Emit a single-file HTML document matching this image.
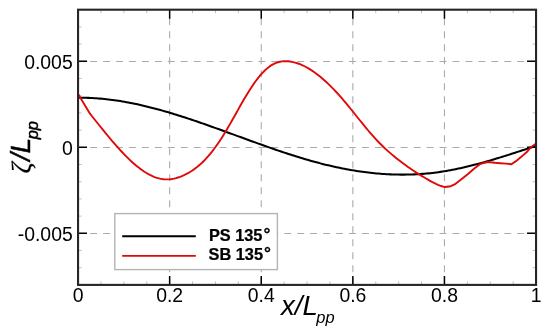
<!DOCTYPE html>
<html><head><meta charset="utf-8"><title>Wave elevation</title>
<style>html,body{margin:0;padding:0;background:#fff;width:550px;height:333px;overflow:hidden}svg{display:block}</style>
</head><body>
<svg width="550" height="333" viewBox="0 0 550 333"><g stroke="#ababab" stroke-width="1.1"><line x1="169.65" y1="9.70" x2="169.65" y2="284.90" stroke-dasharray="7 6" stroke-dashoffset="4.4"/><line x1="261.25" y1="9.70" x2="261.25" y2="284.90" stroke-dasharray="7 6" stroke-dashoffset="4.4"/><line x1="352.85" y1="9.70" x2="352.85" y2="284.90" stroke-dasharray="7 6" stroke-dashoffset="4.4"/><line x1="444.45" y1="9.70" x2="444.45" y2="284.90" stroke-dasharray="7 6" stroke-dashoffset="4.4"/><line x1="78.05" y1="61.50" x2="536.05" y2="61.50" stroke-dasharray="6.9 6.04" stroke-dashoffset="0.79"/><line x1="78.05" y1="147.50" x2="536.05" y2="147.50" stroke-dasharray="6.9 6.04" stroke-dashoffset="0.79"/><line x1="78.05" y1="233.50" x2="536.05" y2="233.50" stroke-dasharray="6.9 6.04" stroke-dashoffset="0.79"/></g>
<path d="M100.95,284.90v-3.50M100.95,9.70v3.50M123.85,284.90v-3.50M123.85,9.70v3.50M146.75,284.90v-3.50M146.75,9.70v3.50M192.55,284.90v-3.50M192.55,9.70v3.50M215.45,284.90v-3.50M215.45,9.70v3.50M238.35,284.90v-3.50M238.35,9.70v3.50M284.15,284.90v-3.50M284.15,9.70v3.50M307.05,284.90v-3.50M307.05,9.70v3.50M329.95,284.90v-3.50M329.95,9.70v3.50M375.75,284.90v-3.50M375.75,9.70v3.50M398.65,284.90v-3.50M398.65,9.70v3.50M421.55,284.90v-3.50M421.55,9.70v3.50M467.35,284.90v-3.50M467.35,9.70v3.50M490.25,284.90v-3.50M490.25,9.70v3.50M513.15,284.90v-3.50M513.15,9.70v3.50M78.05,284.90h3.50M536.05,284.90h-3.50M78.05,267.70h3.50M536.05,267.70h-3.50M78.05,250.50h3.50M536.05,250.50h-3.50M78.05,216.10h3.50M536.05,216.10h-3.50M78.05,198.90h3.50M536.05,198.90h-3.50M78.05,181.70h3.50M536.05,181.70h-3.50M78.05,164.50h3.50M536.05,164.50h-3.50M78.05,130.10h3.50M536.05,130.10h-3.50M78.05,112.90h3.50M536.05,112.90h-3.50M78.05,95.70h3.50M536.05,95.70h-3.50M78.05,78.50h3.50M536.05,78.50h-3.50M78.05,44.10h3.50M536.05,44.10h-3.50M78.05,26.90h3.50M536.05,26.90h-3.50M78.05,9.70h3.50M536.05,9.70h-3.50" stroke="#c0c0c0" stroke-width="1.0" fill="none"/>
<path d="M78.05,284.90v-9.00M78.05,9.70v9.00M169.65,284.90v-9.00M169.65,9.70v9.00M261.25,284.90v-9.00M261.25,9.70v9.00M352.85,284.90v-9.00M352.85,9.70v9.00M444.45,284.90v-9.00M444.45,9.70v9.00M536.05,284.90v-9.00M536.05,9.70v9.00M78.05,233.30h9.00M536.05,233.30h-9.00M78.05,147.30h9.00M536.05,147.30h-9.00M78.05,61.30h9.00M536.05,61.30h-9.00" stroke="#000" stroke-width="1.5" fill="none"/>
<path d="M78.40,97.77 80.40,97.76 82.40,97.76 84.40,97.78 86.40,97.83 88.40,97.89 90.40,97.96 92.40,98.06 94.40,98.17 96.40,98.30 98.40,98.45 100.40,98.61 102.40,98.79 104.40,98.99 106.40,99.20 108.40,99.42 110.40,99.67 112.40,99.93 114.40,100.20 116.40,100.49 118.40,100.79 120.40,101.11 122.40,101.44 124.40,101.78 126.40,102.14 128.40,102.51 130.40,102.89 132.40,103.29 134.40,103.70 136.40,104.12 138.40,104.56 140.40,105.00 142.40,105.46 144.40,105.93 146.40,106.41 148.40,106.90 150.40,107.40 152.40,107.91 154.40,108.44 156.40,108.97 158.40,109.51 160.40,110.06 162.40,110.62 164.40,111.19 166.40,111.77 168.40,112.35 170.40,112.95 172.40,113.55 174.40,114.16 176.40,114.78 178.40,115.40 180.40,116.04 182.40,116.68 184.40,117.32 186.40,117.97 188.40,118.63 190.40,119.29 192.40,119.96 194.40,120.64 196.40,121.32 198.40,122.00 200.40,122.69 202.40,123.38 204.40,124.08 206.40,124.78 208.40,125.49 210.40,126.20 212.40,126.91 214.40,127.62 216.40,128.34 218.40,129.06 220.40,129.78 222.40,130.51 224.40,131.23 226.40,131.96 228.40,132.69 230.40,133.42 232.40,134.15 234.40,134.88 236.40,135.61 238.40,136.34 240.40,137.07 242.40,137.80 244.40,138.53 246.40,139.26 248.40,139.99 250.40,140.71 252.40,141.44 254.40,142.16 256.40,142.88 258.40,143.60 260.40,144.32 262.40,145.03 264.40,145.74 266.40,146.44 268.40,147.15 270.40,147.85 272.40,148.54 274.40,149.23 276.40,149.92 278.40,150.60 280.40,151.28 282.40,151.95 284.40,152.61 286.40,153.27 288.40,153.92 290.40,154.57 292.40,155.21 294.40,155.85 296.40,156.47 298.40,157.10 300.40,157.71 302.40,158.31 304.40,158.91 306.40,159.50 308.40,160.08 310.40,160.65 312.40,161.21 314.40,161.77 316.40,162.31 318.40,162.85 320.40,163.37 322.40,163.89 324.40,164.39 326.40,164.89 328.40,165.37 330.40,165.84 332.40,166.30 334.40,166.75 336.40,167.19 338.40,167.62 340.40,168.03 342.40,168.44 344.40,168.83 346.40,169.21 348.40,169.58 350.40,169.93 352.40,170.28 354.40,170.61 356.40,170.93 358.40,171.23 360.40,171.53 362.40,171.81 364.40,172.08 366.40,172.33 368.40,172.58 370.40,172.81 372.40,173.02 374.40,173.23 376.40,173.42 378.40,173.59 380.40,173.76 382.40,173.91 384.40,174.04 386.40,174.16 388.40,174.27 390.40,174.37 392.40,174.45 394.40,174.51 396.40,174.56 398.40,174.60 400.40,174.62 402.40,174.63 404.40,174.62 406.40,174.60 408.40,174.57 410.40,174.51 412.40,174.45 414.40,174.37 416.40,174.27 418.40,174.16 420.40,174.03 422.40,173.89 424.40,173.73 426.40,173.55 428.40,173.36 430.40,173.16 432.40,172.94 434.40,172.70 436.40,172.44 438.40,172.17 440.40,171.89 442.40,171.58 444.40,171.26 446.40,170.93 448.40,170.58 450.40,170.22 452.40,169.84 454.40,169.44 456.40,169.04 458.40,168.62 460.40,168.19 462.40,167.74 464.40,167.28 466.40,166.82 468.40,166.33 470.40,165.84 472.40,165.34 474.40,164.83 476.40,164.31 478.40,163.77 480.40,163.23 482.40,162.68 484.40,162.12 486.40,161.55 488.40,160.98 490.40,160.39 492.40,159.80 494.40,159.20 496.40,158.60 498.40,157.99 500.40,157.37 502.40,156.75 504.40,156.13 506.40,155.50 508.40,154.86 510.40,154.22 512.40,153.58 514.40,152.93 516.40,152.28 518.40,151.63 520.40,150.98 522.40,150.32 524.40,149.66 526.40,149.00 528.40,148.34 530.40,147.68 532.40,147.02 534.40,146.36 536.00,145.84" stroke="#000" stroke-width="2.05" fill="none" stroke-linejoin="round"/>
<path d="M78.40,94.60 90.00,113.70 L92.00,116.28 94.00,118.77 96.00,121.26 98.00,123.74 100.00,126.23 102.00,128.70 104.00,131.15 106.00,133.59 108.00,136.01 110.00,138.40 112.00,140.77 114.00,143.10 116.00,145.39 118.00,147.64 120.00,149.85 122.00,152.01 124.00,154.11 126.00,156.16 128.00,158.15 130.00,160.08 132.00,161.94 134.00,163.72 136.00,165.43 138.00,167.06 140.00,168.61 142.00,170.07 144.00,171.44 146.00,172.72 148.00,173.89 150.00,174.97 152.00,175.94 154.00,176.79 156.00,177.54 158.00,178.16 160.00,178.67 162.00,179.04 164.00,179.29 166.00,179.41 168.00,179.39 170.00,179.25 172.00,178.98 174.00,178.60 176.00,178.11 178.00,177.51 180.00,176.82 182.00,176.02 184.00,175.15 186.00,174.18 188.00,173.12 190.00,171.97 192.00,170.71 194.00,169.35 196.00,167.88 198.00,166.29 200.00,164.58 202.00,162.75 204.00,160.79 206.00,158.69 208.00,156.46 210.00,154.10 212.00,151.62 214.00,149.01 216.00,146.28 218.00,143.44 220.00,140.48 222.00,137.41 224.00,134.23 226.00,130.95 228.00,127.57 230.00,124.11 232.00,120.58 234.00,117.02 236.00,113.44 238.00,109.86 240.00,106.30 242.00,102.78 244.00,99.31 246.00,95.93 248.00,92.65 250.00,89.48 252.00,86.43 254.00,83.52 256.00,80.75 258.00,78.13 260.00,75.67 262.00,73.39 264.00,71.29 266.00,69.37 268.00,67.66 270.00,66.16 272.00,64.88 274.00,63.81 276.00,62.94 278.00,62.26 280.00,61.75 282.00,61.42 284.00,61.24 286.00,61.20 288.00,61.30 290.00,61.53 292.00,61.86 294.00,62.31 296.00,62.85 298.00,63.49 300.00,64.23 302.00,65.07 304.00,66.00 306.00,67.02 308.00,68.13 310.00,69.32 312.00,70.60 314.00,71.96 316.00,73.41 318.00,74.93 320.00,76.52 322.00,78.19 324.00,79.94 326.00,81.75 328.00,83.63 330.00,85.57 332.00,87.57 334.00,89.64 336.00,91.76 338.00,93.94 340.00,96.17 342.00,98.45 344.00,100.78 346.00,103.15 348.00,105.57 350.00,108.01 352.00,110.49 354.00,112.98 356.00,115.48 358.00,117.98 360.00,120.48 362.00,122.96 364.00,125.42 366.00,127.86 368.00,130.26 370.00,132.62 372.00,134.93 374.00,137.18 376.00,139.36 378.00,141.48 380.00,143.53 382.00,145.52 384.00,147.44 386.00,149.32 388.00,151.14 390.00,152.90 392.00,154.63 394.00,156.30 396.00,157.94 398.00,159.53 400.00,161.09 402.00,162.61 404.00,164.09 406.00,165.54 408.00,166.96 410.00,168.34 412.00,169.70 414.00,171.03 416.00,172.33 418.00,173.61 420.00,174.87 422.00,176.10 424.00,177.31 426.00,178.50 428.00,179.67 430.00,180.80 432.00,181.89 434.00,182.92 436.00,183.88 438.00,184.76 440.00,185.55 442.00,186.24 444.00,186.82 444.80,187.02 L450.80,186.20 455.60,183.80 461.70,179.00 467.70,174.20 474.60,168.20 480.60,163.80 487.80,162.00 495.00,162.80 500.00,163.20 506.00,163.60 511.40,164.20 515.60,161.40 521.60,156.60 527.60,151.20 531.20,147.00 534.80,144.40 536.00,143.80" stroke="#e00808" stroke-width="1.9" fill="none" stroke-linejoin="round"/>
<rect x="78.05" y="9.70" width="458.00" height="275.20" fill="none" stroke="#262626" stroke-width="2.1"/>
<rect x="114.8" y="213.6" width="162.6" height="56" fill="#fff" stroke="#b4b4b4" stroke-width="1.4"/>
<line x1="122.2" y1="236.2" x2="195.8" y2="236.2" stroke="#000" stroke-width="2.05"/>
<line x1="122.2" y1="255.9" x2="195.8" y2="255.9" stroke="#e00808" stroke-width="1.9"/>
<g font-family="Liberation Sans, Arial, sans-serif" font-weight="bold" font-size="16" fill="#000" stroke="#000" stroke-width="0.25"><text transform="translate(208.9,240.9) scale(1.02,0.99)">PS 135<tspan font-size="17" dx="1.0" dy="-1.1">°</tspan></text><text transform="translate(208.6,259.9) scale(1.02,0.985)">SB 135<tspan font-size="17" dx="1.0" dy="-1.1">°</tspan></text></g>
<g font-family="Liberation Sans, Arial, sans-serif" font-size="19.4" fill="#000"><text transform="translate(78.05,301.7) scale(1,1.05)" text-anchor="middle">0</text><text transform="translate(169.65,301.7) scale(1,1.05)" text-anchor="middle">0.2</text><text transform="translate(261.25,301.7) scale(1,1.05)" text-anchor="middle">0.4</text><text transform="translate(352.85,301.7) scale(1,1.05)" text-anchor="middle">0.6</text><text transform="translate(444.45,301.7) scale(1,1.05)" text-anchor="middle">0.8</text><text transform="translate(536.05,301.7) scale(1,1.05)" text-anchor="middle">1</text><text transform="translate(72.7,68.60) scale(1,1.05)" text-anchor="end">0.005</text><text transform="translate(72.7,154.60) scale(1,1.05)" text-anchor="end">0</text><text transform="translate(72.7,240.60) scale(1,1.05)" text-anchor="end">-0.005</text></g>
<text x="281" y="314.8" font-family="Liberation Sans, Arial, sans-serif" font-style="italic" font-size="27.6" fill="#000">x/L<tspan font-size="16.5" dx="-1.5" dy="8.3">pp</tspan></text>
<text transform="translate(29.8,173.5) rotate(-90)" font-family="Liberation Sans, Arial, sans-serif" font-style="italic" font-size="27.6" fill="#000" stroke="#000" stroke-width="0.45"><tspan font-family="Liberation Serif, serif" stroke-width="0.2">ζ</tspan><tspan dx="1.5">/L</tspan><tspan font-size="16.5" dx="-1.5" dy="8.3">pp</tspan></text></svg>
</body></html>
